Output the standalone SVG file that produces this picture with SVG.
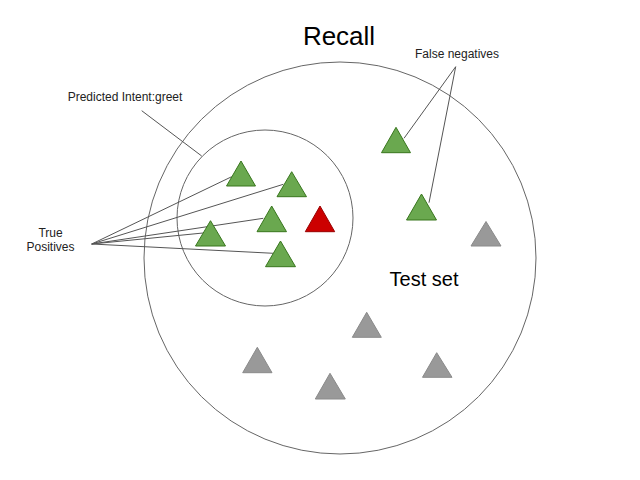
<svg xmlns="http://www.w3.org/2000/svg" width="640" height="480" viewBox="0 0 640 480">
<style>
.circ{fill:none;stroke:#666;stroke-width:1}
.ln{stroke:#555;stroke-width:1;fill:none}
.g{fill:#6aa84f;stroke:#38761d;stroke-width:1}
.r{fill:#cc0000;stroke:#990000;stroke-width:1}
.gr{fill:#999999;stroke:#8a8a8a;stroke-width:1}
text{font-family:"Liberation Sans",Arial,sans-serif;fill:#000;text-anchor:middle}
.s{font-size:12px;fill:#222}
</style>
<rect width="640" height="480" fill="#fff"/>
<g id="test-set"><circle class="circ" cx="340" cy="258" r="196"/><text x="424" y="286" style="font-size:20px">Test set</text></g>
<g id="predicted"><circle class="circ" cx="265" cy="218" r="88"/></g>
<text id="title" x="339" y="45" style="font-size:26px">Recall</text>
<g id="connectors">
<line class="ln" x1="141.7" y1="110.7" x2="201.7" y2="156"/>
<line class="ln" x1="91.7" y1="244" x2="231.7" y2="176.7"/>
<line class="ln" x1="91.7" y1="244" x2="283.3" y2="184.3"/>
<line class="ln" x1="91.7" y1="244" x2="263.3" y2="218.3"/>
<line class="ln" x1="91.7" y1="244" x2="203" y2="233"/>
<line class="ln" x1="91.7" y1="244" x2="273.3" y2="253.3"/>
<line class="ln" x1="455.7" y1="66.7" x2="404" y2="138.3"/>
<line class="ln" x1="455.7" y1="66.7" x2="429" y2="202.7"/>
</g>
<g id="tp1"><polygon class="g" points="241,161 226.5,186 255.5,186"/></g>
<g id="tp2"><polygon class="g" points="291.7,171.7 277,196.7 306.5,196.7"/></g>
<g id="tp3"><polygon class="g" points="271.7,206 257,231.7 286.5,231.7"/></g>
<g id="fp1"><polygon class="r" points="320,206 305.3,231.7 334.7,231.7"/></g>
<g id="tp4"><polygon class="g" points="210.5,220.7 195.5,246 225.5,246"/></g>
<g id="tp5"><polygon class="g" points="280.5,241 265.5,266.7 295.5,266.7"/></g>
<g id="fn1"><polygon class="g" points="396,127.3 381.5,152.7 410.5,152.7"/></g>
<g id="fn2"><polygon class="g" points="421.5,194 406.5,220 436.5,220"/></g>
<g id="tn1"><polygon class="gr" points="486,221.5 471,246 501,246"/></g>
<g id="tn2"><polygon class="gr" points="366.7,312.3 352.3,337.3 381.3,337.3"/></g>
<g id="tn3"><polygon class="gr" points="257.3,347.3 242.7,372.7 272,372.7"/></g>
<g id="tn4"><polygon class="gr" points="330,373.3 315.3,399 345.3,399"/></g>
<g id="tn5"><polygon class="gr" points="436.7,352.7 422.5,377.3 452,377.3"/></g>
<g id="lbl-fn"><text class="s" x="457" y="57.5">False negatives</text></g>
<g id="lbl-pred"><text class="s" x="125" y="100.5">Predicted Intent:greet</text></g>
<g id="lbl-tp"><text class="s" x="50.5" y="236.5">True</text><text class="s" x="50.5" y="250.5">Positives</text></g>
</svg>
